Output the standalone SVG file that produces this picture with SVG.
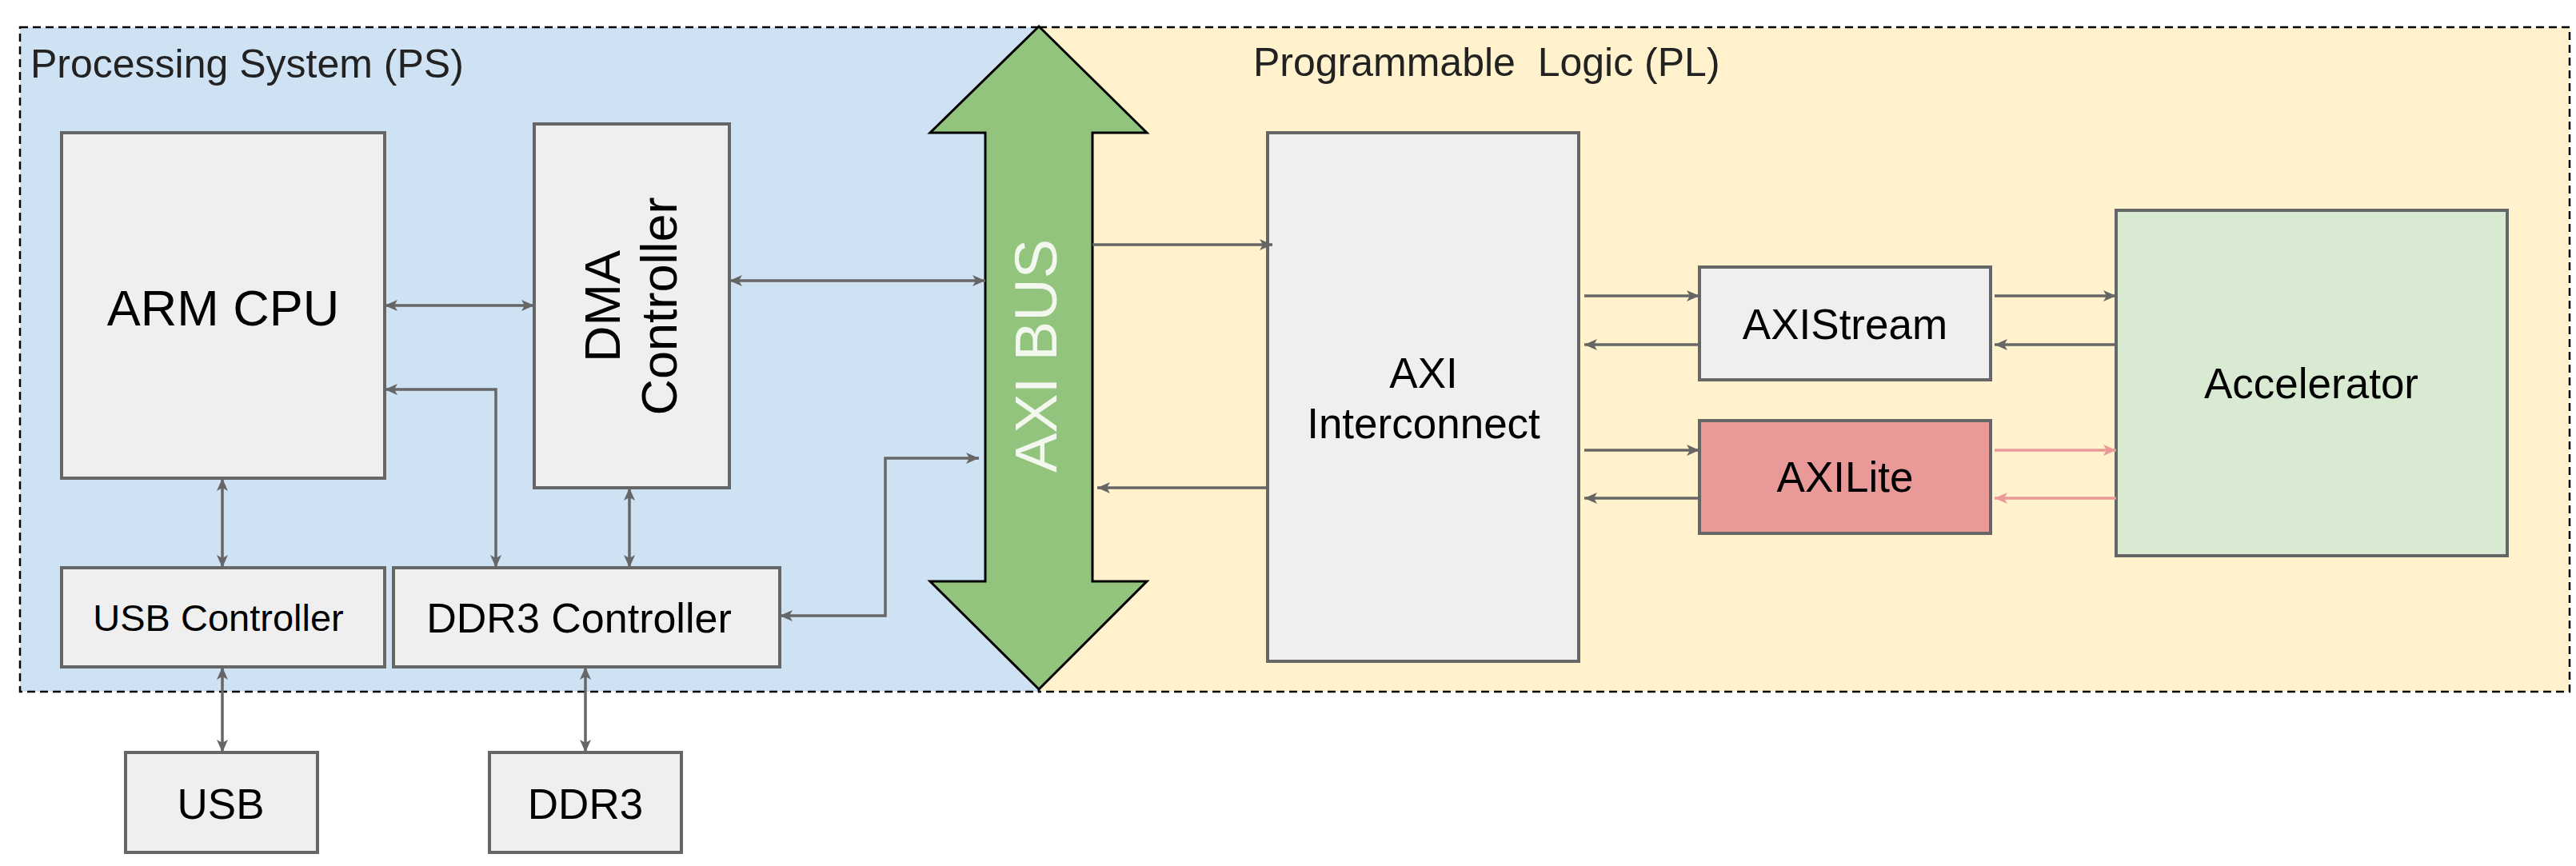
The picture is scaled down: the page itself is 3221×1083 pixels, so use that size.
<svg xmlns="http://www.w3.org/2000/svg" width="3221" height="1083" viewBox="0 0 3221 1083">
<style>
.n{fill:#efefef;stroke:#666;stroke-width:4}
.t{font-family:"Liberation Sans",Arial,sans-serif;fill:#000;text-anchor:middle}
.c{fill:none;stroke:#666;stroke-width:3.5}
.p{fill:none;stroke:#ea9999;stroke-width:3.5}
</style>
<defs>
<marker id="a" markerUnits="userSpaceOnUse" markerWidth="18" markerHeight="16" refX="16" refY="8" orient="auto-start-reverse"><path d="M0,1 L16,8 L0,15 L4,8 Z" fill="#666"/></marker>
<marker id="ap" markerUnits="userSpaceOnUse" markerWidth="18" markerHeight="16" refX="16" refY="8" orient="auto-start-reverse"><path d="M0,1 L16,8 L0,15 L4,8 Z" fill="#ea9999"/></marker>
</defs>
<g id="ps"><rect x="25" y="34" width="1274" height="831" fill="#cfe2f3" stroke="#000" stroke-width="2.5" stroke-dasharray="10,6"/>
<text x="38" y="97" font-family="Liberation Sans,Arial,sans-serif" font-size="50" fill="#222">Processing System (PS)</text></g>
<g id="pl"><rect x="1299" y="34" width="1914" height="831" fill="#fff2cc" stroke="#000" stroke-width="2.5" stroke-dasharray="10,6"/>
<text x="1567" y="95" font-family="Liberation Sans,Arial,sans-serif" font-size="50" fill="#222" xml:space="preserve">Programmable  Logic (PL)</text></g>
<g id="axibus"><path d="M1299,33 L1434,166 L1366,166 L1366,727 L1434,727 L1299,862 L1163,727 L1232,727 L1232,166 L1163,166 Z" fill="#93c47d" stroke="#000" stroke-width="3"/>
<text class="t" transform="translate(1321,445) rotate(-90)" font-size="74" fill="#f3f8ef" style="fill:#f3f8ef">AXI BUS</text></g>
<g id="arm"><rect class="n" x="77" y="166" width="404" height="432"/><text class="t" x="279" y="407" font-size="63">ARM CPU</text></g>
<g id="dma"><rect class="n" x="668" y="155" width="244" height="455"/>
<text class="t" transform="translate(775,383) rotate(-90)" font-size="63">DMA</text>
<text class="t" transform="translate(846,383) rotate(-90)" font-size="63">Controller</text></g>
<g id="usbc"><rect class="n" x="77" y="710" width="404" height="124"/><text class="t" x="273" y="789" font-size="47">USB Controller</text></g>
<g id="ddrc"><rect class="n" x="492" y="710" width="483" height="124"/><text class="t" x="724" y="791" font-size="52">DDR3 Controller</text></g>
<g id="usb"><rect class="n" x="157" y="941" width="240" height="125"/><text class="t" x="276" y="1024" font-size="53">USB</text></g>
<g id="ddr3"><rect class="n" x="612" y="941" width="240" height="125"/><text class="t" x="732" y="1024" font-size="53">DDR3</text></g>
<g id="ic"><rect class="n" x="1585" y="166" width="389" height="661"/>
<text class="t" x="1780" y="485" font-size="53">AXI</text><text class="t" x="1780" y="548" font-size="53">Interconnect</text></g>
<g id="axis"><rect class="n" x="2125" y="334" width="364" height="141"/><text class="t" x="2307" y="424" font-size="53">AXIStream</text></g>
<g id="axil"><rect class="n" x="2125" y="526" width="364" height="141" style="fill:#ea9999"/><text class="t" x="2307" y="615" font-size="53">AXILite</text></g>
<g id="acc"><rect class="n" x="2646" y="263" width="489" height="432" style="fill:#d9ead3"/><text class="t" x="2890" y="498" font-size="53">Accelerator</text></g>
<g id="connectors">
<path class="c" d="M481,382 H668" marker-start="url(#a)" marker-end="url(#a)"/>
<path class="c" d="M912,351 H1232" marker-start="url(#a)" marker-end="url(#a)"/>
<path class="c" d="M481,487 H620 V710" marker-start="url(#a)" marker-end="url(#a)"/>
<path class="c" d="M787,610 V710" marker-start="url(#a)" marker-end="url(#a)"/>
<path class="c" d="M278,598 V710" marker-start="url(#a)" marker-end="url(#a)"/>
<path class="c" d="M278,834 V941" marker-start="url(#a)" marker-end="url(#a)"/>
<path class="c" d="M732,834 V941" marker-start="url(#a)" marker-end="url(#a)"/>
<path class="c" d="M975,770 H1107 V573 H1224" marker-start="url(#a)" marker-end="url(#a)"/>
<path class="c" d="M1366,306 H1591" marker-end="url(#a)"/>
<path class="c" d="M1585,610 H1372" marker-end="url(#a)"/>
<path class="c" d="M1981,370 H2125" marker-end="url(#a)"/>
<path class="c" d="M2125,431 H1981" marker-end="url(#a)" stroke-width="5"/>
<path class="c" d="M1981,563 H2125" marker-end="url(#a)"/>
<path class="c" d="M2125,623 H1981" marker-end="url(#a)" stroke-width="5"/>
<path class="c" d="M2494,370 H2646" marker-end="url(#a)"/>
<path class="c" d="M2646,431 H2494" marker-end="url(#a)" stroke-width="5"/>
<path class="p" d="M2494,563 H2646" marker-end="url(#ap)"/>
<path class="p" d="M2646,623 H2494" marker-end="url(#ap)"/>
</g>
</svg>
